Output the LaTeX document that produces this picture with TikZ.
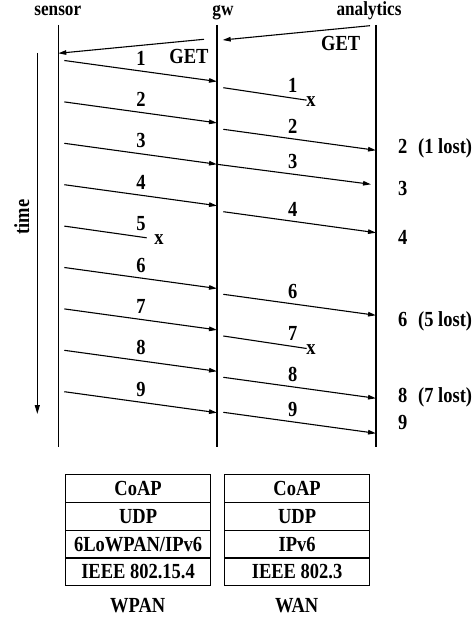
\documentclass[tikz,border=0pt]{standalone}
\usepackage{fontspec}
\setmainfont{Liberation Serif}
\newfontfamily\lblfont{Liberation Serif Bold}[FakeStretch=0.86]
\usetikzlibrary{arrows.meta}
\begin{document}
\begin{tikzpicture}[x=1pt,y=-1pt,
  lbl/.style={font=\lblfont\fontsize{21.5}{24}\selectfont, inner sep=0pt},
  hdr/.style={font=\lblfont\fontsize{20}{24}\selectfont, inner sep=0pt, anchor=base},
  life/.style={line width=1.6pt},
  msg/.style={line width=1.1pt, -{Triangle[length=8pt,width=4.5pt]}},
  lostmsg/.style={line width=1.1pt},
  layer/.style={draw, line width=1.1pt, minimum width=145pt, minimum height=27.7pt,
    inner sep=0pt, anchor=north west, font=\lblfont\fontsize{21.5}{24}\selectfont}
]
\useasboundingbox (0,0) rectangle (474,620);
\fill[white] (0,0) rectangle (474,620);

% headers
\node[hdr] (sensor) at (57.8,15.5) {sensor};
\node[hdr] (gw) at (223,15.5) {gw};
\node[hdr] (analytics) at (369,15.5) {analytics};

% lifelines
\coordinate (st) at (58.3,25);  \coordinate (sb) at (58.3,447);
\coordinate (gt) at (217,25);   \coordinate (gb) at (217,447);
\coordinate (at) at (376,25);   \coordinate (ab) at (376,447);
\draw[life] (st) -- (sb);
\draw[life] (gt) -- (gb);
\draw[life] (at) -- (ab);

% time arrow
\coordinate (t0) at (37.3,53);
\coordinate (t1) at (37.3,414);
\draw[line width=1.3pt, -{Triangle[length=9pt,width=5pt]}] (t0) -- (t1);
\node[lbl, rotate=90] (time) at (21.7,217) {time};

% GET requests
\coordinate (g1a) at (370,25.7);  \coordinate (g1b) at (222.7,40);
\coordinate (g2a) at (204,39.3);  \coordinate (g2b) at (58.3,53.3);
\draw[msg] (g1a) -- (g1b);
\draw[msg] (g2a) -- (g2b);
\node[lbl] (get1) at (340.7,43.3) {GET};
\node[lbl] (get2) at (189,56.7) {GET};

% sensor -> gw
\foreach \k/\y in {1/60.5,2/101.9,3/143.3,4/184.7,6/267.5,7/308.9,8/350.3,9/391.7} {
  \coordinate (sa\k) at (64.3,\y);
  \coordinate (se\k) at (217,\y+21);
  \draw[msg] (sa\k) -- (se\k);
  \node[lbl] (sl\k) at (141,\y-2.5) {\k};
}
\coordinate (sa5) at (64.3,226.1);
\coordinate (se5) at (146.7,237.8);
\draw[lostmsg] (sa5) -- (se5);
\node[lbl] (sl5) at (141,223.6) {5};
\node[lbl] (sx5) at (159,240) {x};

% gw -> analytics
\foreach \k/\y in {2/129.3,4/211.7,6/294.3,8/377.3,9/412.3} {
  \coordinate (ga\k) at (223.3,\y);
  \coordinate (ge\k) at (376,\y+21);
  \draw[msg] (ga\k) -- (ge\k);
  \node[lbl] (gl\k) at (292.7,\y-2.5) {\k};
}
\coordinate (ge3) at (371,184.3);
\draw[msg] (se3) -- (ge3);
\node[lbl] (gl3) at (292.7,161.7) {3};
\foreach \k/\y in {1/87.7,7/336} {
  \coordinate (ga\k) at (223.3,\y);
  \coordinate (ge\k) at (306.7,\y+12.5);
  \draw[lostmsg] (ga\k) -- (ge\k);
  \node[lbl] (gl\k) at (292.7,\y-2.5) {\k};
  \node[lbl] (gx\k) at (311,\y+14) {x};
}

% received at analytics
\node[lbl, anchor=base west] (r2) at (398,153.8) {2\enspace(1 lost)};
\node[lbl, anchor=base west] (r3) at (398,195.4) {3};
\node[lbl, anchor=base west] (r4) at (398,244.4) {4};
\node[lbl, anchor=base west] (r6) at (398,326.4) {6\enspace(5 lost)};
\node[lbl, anchor=base west] (r8) at (398,402.1) {8\enspace(7 lost)};
\node[lbl, anchor=base west] (r9) at (398,429.4) {9};

% protocol stacks
\node[layer] (w1) at (65,474.3) {CoAP};
\node[layer] (w2) at (65,502) {UDP};
\node[layer] (w3) at (65,529.7) {6LoWPAN/IPv6};
\node[layer] (w4) at (65,557.4) {IEEE 802.15.4};
\node[layer] (n1) at (224,474.3) {CoAP};
\node[layer] (n2) at (224,502) {UDP};
\node[layer] (n3) at (224,529.7) {IPv6};
\node[layer] (n4) at (224,557.4) {IEEE 802.3};
\node[lbl] (wpan) at (137.7,605.7) {WPAN};
\node[lbl] (wan) at (296.7,605.7) {WAN};
\end{tikzpicture}
\end{document}
